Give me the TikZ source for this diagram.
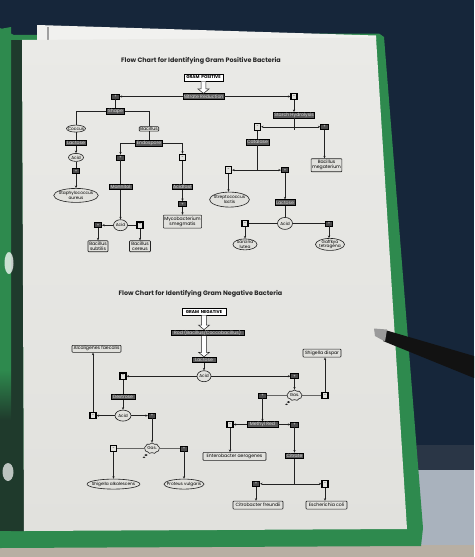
\documentclass[tikz,border=0pt]{standalone}
\usepackage{fontspec}
\setmainfont{Poppins}
\usetikzlibrary{arrows.meta,shapes.geometric,shapes.callouts,shapes.symbols,calc,shadows}
\definecolor{navy}{HTML}{16263A}
\definecolor{fgreen}{HTML}{2E8A4E}
\definecolor{dgreen}{HTML}{1F3A2C}
\definecolor{paper}{HTML}{E1E1DD}
\definecolor{paperhi}{HTML}{EAEAE7}
\definecolor{ink}{HTML}{222222}
\definecolor{greyblue}{HTML}{A9B2BD}
\definecolor{darkslate}{HTML}{2A3646}
\definecolor{beige}{HTML}{B8AFA3}
\definecolor{backpaper}{HTML}{F1F1EF}
\definecolor{foldgrey}{HTML}{A0A0A0}
\definecolor{penblack}{HTML}{121212}
\definecolor{pentip}{HTML}{9A9A9A}
\newcommand\fsA{\fontsize{4.6}{5.0}\selectfont}
\newcommand\fsB{\fontsize{4.3}{4.6}\selectfont}
\newcommand\fsC{\fontsize{3.6}{3.6}\selectfont}
\tikzset{
 conn/.style={draw=ink, line width=0.6pt},
 arr/.style={conn, -{Stealth[length=2.6pt,width=2.2pt]}},
 lbl/.style={draw=black, fill=black!65, text=white!85!black, font=\fsA, inner xsep=0.6pt, inner ysep=0.3pt, minimum height=5.5pt, line width=0.6pt},
 res/.style={draw=ink, fill=paper, rounded corners=0.8pt, font=\fsA, inner xsep=1pt, inner ysep=0.5pt, line width=0.6pt, align=center},
 ell/.style={ellipse, draw=ink, fill=paper, font=\fsB, inner xsep=-1.5pt, inner ysep=-0.3pt, line width=0.6pt, align=center},
 pbox/.style={draw=black, fill=black!70, text=white, font=\fsC, minimum width=7.5pt, minimum height=5pt, inner sep=0pt, line width=0.6pt},
 mbox/.style={draw=black, fill=paper, text=black, font=\fsC, minimum width=6pt, minimum height=6.5pt, inner sep=0pt, line width=1.1pt},
 gram/.style={draw=black, fill=white, font=\fontsize{4.3}{4.6}\selectfont\bfseries, line width=0.7pt, minimum height=7pt, inner sep=0.8pt, drop shadow={shadow xshift=1pt, shadow yshift=-1pt, fill=black, opacity=1}},
 title/.style={font=\fontsize{6.4}{7}\selectfont\bfseries, text=black!85},
 gas/.style={cloud callout, cloud puffs=9, cloud puff arc=110, aspect=1.5, draw=ink, fill=paper, font=\fsB, inner sep=0pt, minimum width=15pt, minimum height=10.5pt, line width=0.6pt, callout relative pointer={(-4pt,-4.5pt)}},
}
\begin{document}
\begin{tikzpicture}[x=1pt,y=-1pt]
\useasboundingbox (0,0) rectangle (474,557);
\clip (0,0) rectangle (474,557);
% ---------- photo background ----------
\fill[navy] (0,0) rectangle (474,557);
\fill[greyblue] (416,470) rectangle (474,557);
\fill[darkslate] (416,445) rectangle (474,470);
\fill[beige] (0,545) rectangle (474,557);
\fill[fgreen] (0,28) -- (14,35) -- (379,33.5) -- (384,37) -- (423,528) -- (421,546) -- (0,548) -- cycle;
\fill[dgreen] (11,40) -- (22,40) -- (24,531) -- (11,531) -- cycle;
\fill[fgreen] (0,29) -- (11,27) -- (11,370) -- (0,370) -- cycle;
\shade[top color=fgreen, bottom color=dgreen] (0,370) rectangle (11,420);
\fill[dgreen] (0,420) rectangle (11,531);
\fill[white, opacity=0.75] (9,263) ellipse (4.5 and 11);
\fill[white, opacity=0.7] (8,472) ellipse (5.5 and 9);
\fill[backpaper] (37,25) -- (376,35.5) -- (376,40) -- (37,41) -- cycle;
\draw[foldgrey, line width=1.5pt] (48,27) -- (48,40);
\shade[top color=paperhi, bottom color=paper] (22,40) -- (376,37.5) -- (407,529) -- (24,531) -- cycle;
% pen
\fill[penblack] (385,330) -- (474,356) -- (474,378) -- (383,341) -- cycle;
\fill[pentip] (374,328.5) -- (387,329.5) -- (385,341.5) -- (375,336) -- cycle;
% ---------- Gram positive ----------
\node[title] (t1) at (201,61) {Flow Chart for Identifying Gram Positive Bacteria};
\node[gram, minimum width=39pt] (gp) at (203.5,77.4) {GRAM\ \ POSITIVE};
\node[lbl, minimum width=40pt] (nr) at (203.5,96.5) {Nitrate Reduction};
\node[pbox] (p1) at (115.5,96.5) {+};
\node[mbox] (m1) at (294,96.5) {-};
\node[lbl, minimum width=18pt] (shape) at (115.5,111.5) {Shape};
\node[ell, minimum width=19pt, minimum height=7pt] (coccus) at (76,128.6) {Coccus};
\node[res, minimum width=19pt] (bac) at (149,128.9) {Bacillus};
\node[lbl, minimum width=21pt] (lac1) at (76,142.8) {Lactose};
\node[ell, minimum width=15pt, minimum height=8pt] (acid1) at (76,157.4) {Acid};
\node[pbox] (p2) at (76,171.2) {+};
\node[ell, minimum width=43pt, minimum height=14pt] (staph) at (76,195.4) {Staphylococcus\\aureus};
\node[lbl, minimum width=27pt] (endo) at (149,143.1) {Endospore};
\node[pbox] (p3) at (120.5,157.4) {+};
\node[mbox] (m3) at (182.5,157.6) {-};
\node[lbl, minimum width=23pt] (mann) at (120.5,186.8) {Mannitol};
\node[ell, minimum width=14pt, minimum height=11pt] (acid2) at (120.5,225.2) {Acid};
\node[pbox] (p4) at (98,225.2) {+};
\node[mbox] (m4) at (140,225.2) {-};
\node[res, minimum width=20pt, minimum height=11pt] (bsub) at (98,246.2) {Bacillus\\subtilis};
\node[res, minimum width=21pt, minimum height=11pt] (bcer) at (140,246.2) {Bacillus\\cereus};
\node[lbl, minimum width=20pt] (acf) at (182.5,186.8) {Acidfast};
\node[pbox] (p5) at (182.5,203.9) {+};
\node[res, minimum width=37pt, minimum height=13pt] (myco) at (182.5,221.6) {Mycobacterium\\smegmatis};
\node[lbl, minimum width=40pt] (starch) at (294,115.1) {Starch Hydrolysis};
\coordinate (j1) at (294,126.8);
\node[mbox] (m5) at (257.5,126.8) {-};
\node[pbox] (p6) at (324.5,126.8) {+};
\node[res, minimum width=30pt, minimum height=13pt] (bmeg) at (326.5,165.2) {Bacillus\\megaterium};
\node[lbl, minimum width=23pt] (cat) at (257.5,142.1) {Catalase};
\coordinate (j2) at (257.5,170.1);
\node[mbox] (m6) at (228.5,170.1) {-};
\node[pbox] (p7) at (285,170.1) {+};
\node[ell, minimum width=36pt, minimum height=15pt] (slac) at (229.5,199.6) {Streptococcus\\lactis};
\node[lbl, minimum width=20pt] (lac2) at (285,202.5) {Lactose};
\node[ell, minimum width=15pt, minimum height=12pt] (acid3) at (285,223.4) {Acid};
\node[mbox] (m7) at (245,223.4) {-};
\node[pbox] (p8) at (329,223.4) {+};
\node[ell, minimum width=24pt, minimum height=11pt] (sarc) at (245,244.4) {Sarcina\\lutea};
\node[ell, minimum width=29pt, minimum height=12pt] (gaff) at (330,244.4) {Gaffkya\\tetragena};
\draw[fill=white, draw=ink, line width=0.5pt] let \p1=(gp.south), \p2=(nr.north) in
  (\x1-2.4pt,\y1) -- (\x1-2.4pt,\y2+4.5pt) -- (\x1-5.5pt,\y2+4.5pt) -- (\x1,\y2) -- (\x1+5.5pt,\y2+4.5pt) -- (\x1+2.4pt,\y2+4.5pt) -- (\x1+2.4pt,\y1);
\draw[arr] (nr) -- (p1);
\draw[arr] (nr) -- (m1);
\draw[conn] (p1) -- (shape);
\draw[conn] (shape.west) -| (coccus.north);
\draw[conn] (shape.east) -| (bac.north);
\draw[conn] (coccus) -- (lac1);
\draw[arr] (lac1) -- (acid1);
\draw[conn] (acid1) -- (p2);
\draw[arr] (p2) -- (staph);
\draw[conn] (bac) -- (endo);
\draw[arr] (endo.west) -| (p3.north);
\draw[arr] (endo.east) -| (m3.north);
\draw[conn] (p3) -- (mann);
\draw[arr] (mann) -- (acid2);
\draw[arr] (acid2) -- (p4);
\draw[conn] (acid2) -- (m4);
\draw[arr] (p4) -- (bsub);
\draw[arr] (m4) -- (bcer);
\draw[conn] (m3) -- (acf);
\draw[arr] (acf) -- (p5);
\draw[arr] (p5) -- (myco);
\draw[arr] (m1) -- (starch);
\draw[conn] (starch.south) -- ($(j1)+(0,3)$);
\draw[arr] (j1) -- (m5);
\draw[arr] (j1) -- (p6);
\draw[arr] (p6.south) -- (p6.south |- bmeg.north);
\draw[conn] (m5) -- (cat);
\draw[conn] (cat) -- (j2);
\draw[arr] (j2) -- (m6);
\draw[arr] (j2) -- (p7);
\draw[arr] (m6.south) -- (m6.south |- slac.north);
\draw[arr] (p7) -- (lac2);
\draw[conn] (lac2) -- (acid3);
\draw[conn] (acid3) -- (m7);
\draw[conn] (acid3) -- (p8);
\draw[arr] (m7) -- (sarc);
\draw[arr] (p8.south) -- (p8.south |- gaff.north);
% ---------- Gram negative ----------
\node[title] (t2) at (200.5,294.1) {Flow Chart for Identifying Gram Negative Bacteria};
\node[gram, minimum width=44pt] (gn) at (204,311.5) {GRAM\ \ NEGATIVE};
\node[lbl, minimum width=73pt] (rod) at (207.5,332.8) {Rod (Bacillus/Coccobacillus)};
\node[lbl, minimum width=24pt] (lacN) at (204,359.8) {Lactose};
\node[ell, minimum width=14pt, minimum height=11pt] (acidN) at (204,376.2) {Acid};
\node[mbox] (mA) at (123,376.2) {-};
\node[pbox] (pA) at (294.5,376.2) {+};
\node[lbl, minimum width=24pt] (dex) at (123,396.8) {Dextrose};
\node[ell, minimum width=16pt, minimum height=11pt] (acidB) at (123,415.6) {Acid};
\node[mbox] (mB) at (93,415.6) {-};
\node[pbox] (pB) at (152,415.6) {+};
\node[res, minimum width=49pt, minimum height=7pt] (alc) at (96.5,348.8) {Alcaligenes faecalis};
\node[gas] (gasA) at (152,448.3) {Gas.};
\node[mbox] (mC) at (113.5,448.3) {-};
\node[pbox] (pC) at (184,448.3) {+};
\node[ell, minimum width=52pt, minimum height=10pt, inner xsep=-3pt] (salk) at (113.5,484.1) {Shigella alkalescens};
\node[ell, minimum width=40pt, minimum height=10pt, inner xsep=-3pt] (prot) at (184,484.1) {Proteus vulgaris};
\node[gas] (gasB) at (294.5,395.3) {Gas.};
\node[pbox] (pD) at (262.5,395.3) {+};
\node[mbox] (mD) at (325,395.3) {-};
\node[res, minimum width=38pt, minimum height=8pt] (sdis) at (322,353.1) {Shigella dispar};
\node[lbl, minimum width=31pt] (mr) at (262.5,424.5) {Methyl Red};
\node[mbox] (mE) at (230,424.5) {-};
\node[pbox] (pE) at (294.5,424.5) {+};
\node[res, minimum width=63pt, minimum height=8pt] (ent) at (234.5,456.4) {Enterobacter aerogenes};
\node[lbl, minimum width=18pt] (cit) at (294.5,455.7) {Citrate};
\coordinate (j3) at (294.5,483.8);
\node[pbox] (pF) at (256,483.8) {+};
\node[mbox] (mF) at (325,483.8) {-};
\node[res, minimum width=50pt, minimum height=8pt] (cfr) at (258,505.1) {Citrobacter freundii};
\node[res, minimum width=41pt, minimum height=8pt] (eco) at (326.5,505.1) {Escherichia coli};
\draw[fill=white, draw=ink, line width=0.5pt] let \p1=(gn.south), \p2=(rod.north) in
  (\x1-2.4pt,\y1) -- (\x1-2.4pt,\y2+4.5pt) -- (\x1-5.5pt,\y2+4.5pt) -- (\x1,\y2) -- (\x1+5.5pt,\y2+4.5pt) -- (\x1+2.4pt,\y2+4.5pt) -- (\x1+2.4pt,\y1);
\draw[fill=white, draw=ink, line width=0.5pt] let \p1=(lacN.north), \p2=(rod.south) in
  (\x1-2.4pt,\y2) -- (\x1-2.4pt,\y1+4.5pt) -- (\x1-5.5pt,\y1+4.5pt) -- (\x1,\y1) -- (\x1+5.5pt,\y1+4.5pt) -- (\x1+2.4pt,\y1+4.5pt) -- (\x1+2.4pt,\y2);
\draw[arr] (lacN) -- (acidN);
\draw[arr] (acidN) -- (mA);
\draw[arr] (acidN) -- (pA);
\draw[conn] (mA) -- (dex);
\draw[arr] (dex) -- (acidB);
\draw[arr] (acidB) -- (mB);
\draw[arr] (acidB) -- (pB);
\draw[arr] (mB.north) -- (mB.north |- alc.south);
\draw[arr] (pB) -- (gasA);
\draw[conn] (gasA) -- (mC);
\draw[conn] (gasA) -- (pC);
\draw[arr] (mC) -- (salk);
\draw[arr] (pC) -- (prot);
\draw[arr] (pA) -- (gasB);
\draw[conn] (gasB) -- (pD);
\draw[conn] (gasB) -- (mD);
\draw[arr] (mD.north) -- (mD.north |- sdis.south);
\draw[arr] (pD) -- (mr);
\draw[arr] (mr) -- (mE);
\draw[arr] (mr) -- (pE);
\draw[arr] (mE.south) -- (mE.south |- ent.north);
\draw[arr] (pE) -- (cit);
\draw[conn] (cit.south) -- ($(j3)+(0,1)$);
\draw[arr] (j3) -- (pF);
\draw[arr] (j3) -- (mF);
\draw[arr] (pF.south) -- (pF.south |- cfr.north);
\draw[arr] (mF.south) -- (mF.south |- eco.north);
\end{tikzpicture}
\end{document}
